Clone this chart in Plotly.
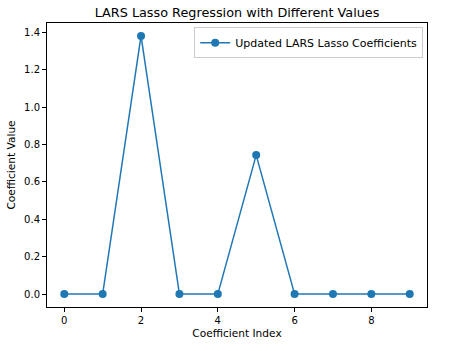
import plotly.graph_objects as go

indices = list(range(10))
coefficients = [0.0, 0.0, 1.38, 0.0, 0.0, 0.743, 0.0, 0.0, 0.0, 0.0]
series_name = "Updated LARS Lasso Coefficients"
title = "LARS Lasso Regression with Different Values"
x_label = "Coefficient Index"
y_label = "Coefficient Value"
x_ticks = [0, 2, 4, 6, 8]
y_ticks = [0.0, 0.2, 0.4, 0.6, 0.8, 1.0, 1.2, 1.4]

color = "#1f77b4"
font = "DejaVu Sans, Liberation Sans, sans-serif"

fig = go.Figure()
fig.add_trace(go.Scatter(
    x=indices, y=coefficients, mode="lines+markers", name=series_name,
    line=dict(color=color, width=1.5),
    marker=dict(color=color, size=8),
))

ymax = max(coefficients)
ymin = min(coefficients)
ypad = (ymax - ymin) * 0.05
xpad = (max(indices) - min(indices)) * 0.05

axis_common = dict(
    showgrid=False, zeroline=False, showline=True, linecolor="black", linewidth=1,
    mirror=True, ticks="outside", ticklen=4, tickcolor="black",
    tickfont=dict(family=font, size=10, color="black"),
)

fig.update_layout(
    width=474, height=351,
    margin=dict(l=47, r=47, t=23, b=44),
    paper_bgcolor="white", plot_bgcolor="white",
    font=dict(family=font, color="black"),
    title=dict(text=title, x=0.5, xanchor="center", y=0.965, yanchor="middle",
               font=dict(family=font, size=12.8, color="black")),
    showlegend=True,
    legend=dict(x=0.99, y=0.985, xanchor="right", yanchor="top",
                bgcolor="rgba(255,255,255,0.8)", bordercolor="#cccccc", borderwidth=1,
                font=dict(family=font, size=11, color="black")),
    xaxis=dict(range=[min(indices) - xpad, max(indices) + xpad], tickvals=x_ticks,
               ticktext=[str(t) for t in x_ticks],
               title=dict(text=x_label, font=dict(family=font, size=10.6), standoff=4),
               **axis_common),
    yaxis=dict(range=[ymin - ypad, ymax + ypad], tickvals=y_ticks,
               ticktext=[f"{t:.1f}" for t in y_ticks],
               title=dict(text=y_label, font=dict(family=font, size=10.6), standoff=6),
               **axis_common),
)

fig.write_html("out.html")
